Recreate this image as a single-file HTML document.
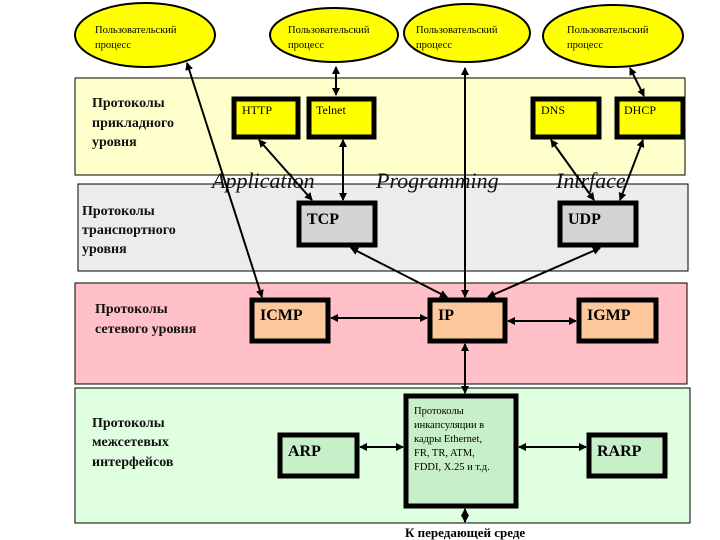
<!DOCTYPE html>
<html><head><meta charset="utf-8"><style>
html,body{margin:0;padding:0;background:#fff}
svg{display:block}
text{font-family:"Liberation Serif","Noto Serif CJK SC",serif}
</style></head><body>
<svg width="720" height="540" viewBox="0 0 720 540" xmlns="http://www.w3.org/2000/svg">
<defs>
<marker id="a" markerWidth="8" markerHeight="8" refX="7" refY="4" orient="auto-start-reverse" markerUnits="userSpaceOnUse">
<path d="M0,0 L8,4 L0,8 z" fill="#000"/></marker>
</defs>
<!-- bands -->
<rect x="75" y="78" width="610" height="97" fill="#ffffcc" stroke="#000" stroke-width="1"/>
<rect x="78" y="184" width="610" height="87" fill="#ececec" stroke="#000" stroke-width="1"/>
<rect x="75" y="283" width="612" height="101" fill="#ffc0c8" stroke="#000" stroke-width="1"/>
<rect x="75" y="388" width="615" height="135" fill="#e0ffe0" stroke="#000" stroke-width="1"/>
<!-- ellipses -->
<g fill="#ffff00" stroke="#000" stroke-width="2">
<ellipse cx="145" cy="35" rx="70" ry="32"/>
<ellipse cx="334" cy="35" rx="64" ry="27"/>
<ellipse cx="467" cy="33" rx="63" ry="29"/>
<ellipse cx="613" cy="36" rx="70" ry="31"/>
</g>
<g font-size="10.5" fill="#000">
<text x="95" y="33">Пользовательский</text><text x="95" y="48">процесс</text>
<text x="288" y="33">Пользовательский</text><text x="288" y="48">процесс</text>
<text x="416" y="33">Пользовательский</text><text x="416" y="48">процесс</text>
<text x="567" y="33">Пользовательский</text><text x="567" y="48">процесс</text>
</g>
<!-- layer labels -->
<g font-size="14" font-weight="bold" fill="#111">
<text x="92" y="107">Протоколы</text><text x="92" y="127">прикладного</text><text x="92" y="146">уровня</text>
<text x="82" y="215">Протоколы</text><text x="82" y="234">транспортного</text><text x="82" y="253">уровня</text>
<text x="95" y="313">Протоколы</text><text x="95" y="333">сетевого уровня</text>
<text x="92" y="427">Протоколы</text><text x="92" y="446">межсетевых</text><text x="92" y="466">интерфейсов</text>
</g>
<!-- boxes -->
<g stroke="#000" stroke-width="5">
<rect x="234" y="99" width="64" height="38" fill="#ffff00"/>
<rect x="309" y="99" width="65" height="38" fill="#ffff00"/>
<rect x="533" y="99" width="66" height="38" fill="#ffff00"/>
<rect x="617" y="99" width="66" height="38" fill="#ffff00"/>
<rect x="299" y="203" width="76" height="42" fill="#d4d4d4"/>
<rect x="560" y="203" width="76" height="42" fill="#d4d4d4"/>
<rect x="252" y="300" width="76" height="41" fill="#fcc89c"/>
<rect x="430" y="300" width="75" height="41" fill="#fcc89c"/>
<rect x="579" y="300" width="77" height="41" fill="#fcc89c"/>
<rect x="280" y="435" width="77" height="41" fill="#c8f0c8"/>
<rect x="589" y="435" width="76" height="41" fill="#c8f0c8"/>
<rect x="406" y="396" width="110" height="110" fill="#c8f0c8"/>
</g>
<g font-size="12" fill="#000">
<text x="242" y="114">HTTP</text><text x="316" y="114">Telnet</text>
<text x="541" y="114">DNS</text><text x="624" y="114">DHCP</text>
</g>
<g font-size="16" font-weight="bold" fill="#000">
<text x="307" y="224">TCP</text><text x="568" y="224">UDP</text>
<text x="260" y="320">ICMP</text><text x="438" y="320">IP</text><text x="587" y="320">IGMP</text>
<text x="288" y="456">ARP</text><text x="597" y="456">RARP</text>
</g>
<g font-size="10.5" fill="#000">
<text x="414" y="414">Протоколы</text><text x="414" y="428">инкапсуляции в</text>
<text x="414" y="442">кадры Ethernet,</text><text x="414" y="456">FR, TR, ATM,</text>
<text x="414" y="470">FDDI, X.25  и т.д.</text>
</g>
<text x="405" y="537" font-size="13" font-weight="bold">К передающей среде</text>
<!-- italic words -->
<g font-size="22" font-style="italic" fill="#111">
<text x="212" y="188">Application</text><text x="376" y="188">Programming</text><text x="556" y="188">Intrface</text>
</g>
<!-- connectors -->
<g stroke="#000" stroke-width="2" fill="none" marker-start="url(#a)" marker-end="url(#a)">
<line x1="187" y1="63" x2="262" y2="297"/>
<line x1="336" y1="67" x2="336" y2="95"/>
<line x1="630" y1="68" x2="644" y2="96"/>
<line x1="465" y1="68" x2="465" y2="297"/>
<line x1="259" y1="140" x2="312" y2="200"/>
<line x1="343" y1="140" x2="343" y2="200"/>
<line x1="551" y1="140" x2="594" y2="200"/>
<line x1="643" y1="140" x2="620" y2="200"/>
<line x1="351" y1="248" x2="447" y2="297"/>
<line x1="600" y1="248" x2="488" y2="297"/>
<line x1="331" y1="318" x2="427" y2="318"/>
<line x1="508" y1="321" x2="576" y2="321"/>
<line x1="465" y1="344" x2="465" y2="393"/>
<line x1="360" y1="447" x2="403" y2="447"/>
<line x1="519" y1="447" x2="586" y2="447"/>
<line x1="465" y1="509" x2="465" y2="522"/>
</g>
</svg>
</body></html>
